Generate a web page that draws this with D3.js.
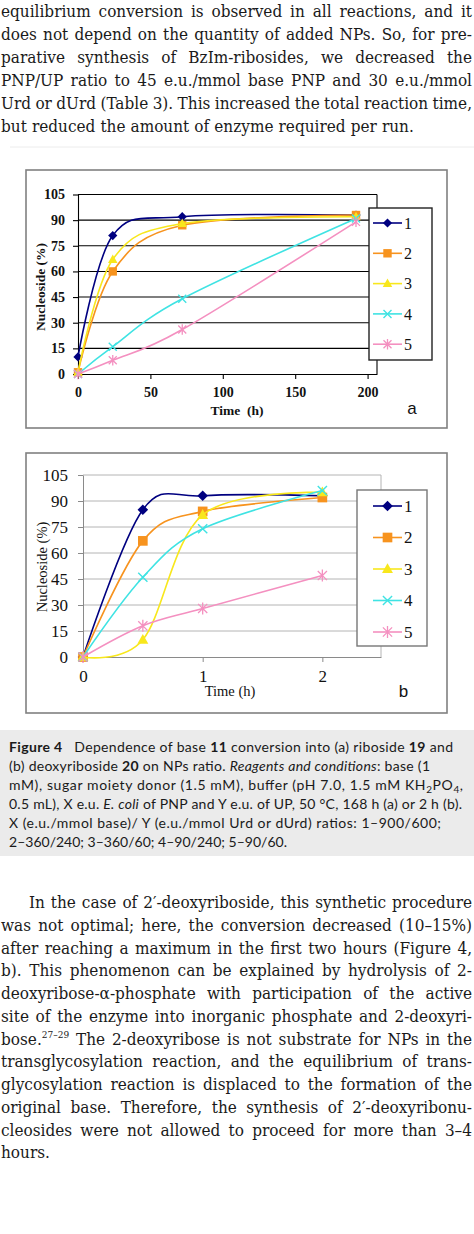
<!DOCTYPE html>
<html>
<head>
<meta charset="utf-8">
<script src="https://cdn.jsdelivr.net/npm/d3@7"></script>
<style>
  body { margin: 0; background: #fff; }
  svg { display: block; }
  text { white-space: pre; }
</style>
</head>
<body>
<div id="page"></div>
<script>
const W = 474, H = 1234;

// series data
const seriesNames = ['1', '2', '3', '4', '5'];
const seriesColors = ['#000080', '#F7931E', '#F8E71C', '#3FE3E3', '#F490C0'];
const timeA = [0, 24, 72, 192];
const valuesA = [
    [10, 81, 92, 93],
    [1, 60, 87, 93],
    [1, 67, 88, 92],
    [0, 16, 44, 91],
    [0, 8, 26, 89]
];
const timeB = [0, 0.5, 1, 2];
const valuesB = [
    [0, 85, 93, 93],
    [0, 67, 84, 92],
    [0, 10, 82, 95],
    [0, 46, 74, 96],
    [0, 18, 28, 47]
];
const yTicks = [0, 15, 30, 45, 60, 75, 90, 105];
const xTicksA = [0, 50, 100, 150, 200];
const xTicksB = [0, 1, 2];

// page text
const topLines = [
    'equilibrium conversion is observed in all reactions, and it',
    'does not depend on the quantity of added NPs. So, for pre-',
    'parative synthesis of BzIm-ribosides, we decreased the',
    'PNP/UP ratio to 45 e.u./mmol base PNP and 30 e.u./mmol',
    'Urd or dUrd (Table 3). This increased the total reaction time,',
    'but reduced the amount of enzyme required per run.'
];
const bottomLines = [
    'In the case of 2′-deoxyriboside, this synthetic procedure',
    'was not optimal; here, the conversion decreased (10–15%)',
    'after reaching a maximum in the first two hours (Figure 4,',
    'b). This phenomenon can be explained by hydrolysis of 2-',
    'deoxyribose-α-phosphate with participation of the active',
    'site of the enzyme into inorganic phosphate and 2-deoxyri-',
    'bose.^{27–29} The 2-deoxyribose is not substrate for NPs in the',
    'transglycosylation reaction, and the equilibrium of trans-',
    'glycosylation reaction is displaced to the formation of the',
    'original base. Therefore, the synthesis of 2′-deoxyribonu-',
    'cleosides were not allowed to proceed for more than 3–4',
    'hours.'
];
const captionLines = [
    [['Figure 4', 'b'], ['   Dependence of base '], ['11', 'b'], [' conversion into (a) riboside '], ['19', 'b'], [' and']],
    [['(b) deoxyriboside '], ['20', 'b'], [' on NPs ratio. '], ['Reagents and conditions', 'i'], [': base (1']],
    [['mM), sugar moiety donor (1.5 mM), buffer (pH 7.0, 1.5 mM KH'], ['2', 'sub'], ['PO'], ['4', 'sub'], [',']],
    [['0.5 mL), X e.u. '], ['E. coli', 'i'], [' of PNP and Y e.u. of UP, 50 °C, 168 h (a) or 2 h (b).']],
    [['X (e.u./mmol base)/ Y (e.u./mmol Urd or dUrd) ratios: 1–900/600;']],
    [['2–360/240; 3–360/60; 4–90/240; 5–90/60.']]
];
const captionRight = [453, 430, 463, 462, 441, 287];

const svg = d3.select('#page').append('svg')
    .attr('width', W)
    .attr('height', H);

// Body text, justified word by word
const bodyFont = "'DejaVu Serif Condensed', 'DejaVu Serif', serif";
const bodySize = 17;

function textLine(str, y, x0, x1, justify) {
    const words = str.split(' ');
    const nodes = words.map(w => {
        const t = svg.append('text')
            .attr('y', y)
            .attr('font-family', bodyFont)
            .attr('font-stretch', 'condensed')
            .attr('font-size', bodySize)
            .attr('fill', '#1a1a1a');
        const m = w.match(/^(.*)\^\{(.*)\}$/);
        if (m) {
            t.append('tspan').text(m[1]);
            t.append('tspan').attr('font-size', 10).attr('dy', -7).text(m[2]);
        } else {
            t.text(w);
        }
        return t;
    });
    const widths = nodes.map(n => n.node().getComputedTextLength());
    const gap = justify && words.length > 1
        ? (x1 - x0 - d3.sum(widths)) / (words.length - 1)
        : bodySize * 0.3;
    let x = x0;
    nodes.forEach((n, i) => {
        n.attr('x', x);
        x += widths[i] + gap;
    });
}

topLines.forEach((l, i) => textLine(l, 16.5 + i * 23.05, 1, 472, i < topLines.length - 1));
bottomLines.forEach((l, i) => textLine(l, 908 + i * 22.75, i === 0 ? 29 : 1, 472, i < bottomLines.length - 1));

// faint rule above the figure
svg.append('line')
    .attr('x1', 10).attr('x2', W)
    .attr('y1', 147).attr('y2', 147)
    .attr('stroke', '#ececec');

// Markers
function drawMarker(sel, i, s) {
    const c = seriesColors[i];
    if (i === 0) {
        const r = 4.6 * s;
        sel.append('path').attr('d', `M0,${-r}L${r},0L0,${r}L${-r},0Z`).attr('fill', c);
    } else if (i === 1) {
        const r = 4.2 * s;
        sel.append('rect').attr('x', -r).attr('y', -r).attr('width', 2 * r).attr('height', 2 * r).attr('fill', c);
    } else if (i === 2) {
        const r = 5 * s;
        sel.append('path').attr('d', `M0,${-r}L${r * 0.95},${r * 0.7}L${-r * 0.95},${r * 0.7}Z`).attr('fill', c);
    } else if (i === 3) {
        const r = 4 * s;
        sel.append('path').attr('d', `M${-r},${-r}L${r},${r}M${-r},${r}L${r},${-r}`)
            .attr('stroke', c).attr('stroke-width', 1.4).attr('fill', 'none');
    } else {
        const r = 4 * s;
        sel.append('path').attr('d', `M${-r},${-r}L${r},${r}M${-r},${r}L${r},${-r}M0,${-r * 1.3}L0,${r * 1.3}`)
            .attr('stroke', c).attr('stroke-width', 1.3).attr('fill', 'none');
    }
}

// Chart
function drawChart(o) {
    const g = svg.append('g');

    g.append('rect')
        .attr('x', o.box[0]).attr('y', o.box[1])
        .attr('width', o.box[2]).attr('height', o.box[3])
        .attr('fill', '#fff')
        .attr('stroke', '#808080')
        .attr('stroke-width', 1.6);

    const x = d3.scaleLinear().domain(o.xDomain).range([o.left, o.right]);
    const y = d3.scaleLinear().domain([0, 105]).range([o.bottom, o.top]);

    // gridlines + right border
    g.append('g').selectAll('line')
        .data(yTicks.slice(1))
        .join('line')
        .attr('x1', o.left).attr('x2', o.right)
        .attr('y1', d => y(d)).attr('y2', d => y(d))
        .attr('stroke', o.grid)
        .attr('stroke-width', o.gridWidth);
    g.append('line')
        .attr('x1', o.right).attr('x2', o.right)
        .attr('y1', o.top).attr('y2', o.bottom)
        .attr('stroke', o.grid)
        .attr('stroke-width', o.gridWidth);

    // Y Axis
    const yAx = g.append('g')
        .attr('transform', `translate(${o.left},0)`)
        .call(d3.axisLeft(y).tickValues(yTicks).tickSize(5).tickSizeOuter(0).tickPadding(o.yPad));
    // X Axis
    const xAx = g.append('g')
        .attr('transform', `translate(0,${o.bottom})`)
        .call(d3.axisBottom(x).tickValues(o.xTicks).tickFormat(d3.format('d')).tickSize(5).tickSizeOuter(0).tickPadding(8));

    [yAx, xAx].forEach(ax => {
        ax.attr('font-size', null);
        ax.select('.domain').attr('stroke', o.axis).attr('stroke-width', o.gridWidth);
        ax.selectAll('.tick line').attr('stroke', o.axis).attr('stroke-width', o.gridWidth);
        ax.selectAll('.tick text')
            .attr('fill', '#111')
            .attr('font-family', "'Liberation Serif', 'Times New Roman', serif")
            .style('font-size', o.tickSize + 'px')
            .attr('font-weight', o.weight);
    });

    // series lines
    const line = d3.line()
        .x(d => x(d[0]))
        .y(d => y(d[1]))
        .curve(d3.curveCatmullRom.alpha(0));

    o.values.forEach((vals, i) => {
        const pts = o.times.map((t, j) => [t, vals[j]]);
        g.append('path')
            .attr('d', line(pts))
            .attr('fill', 'none')
            .attr('stroke', seriesColors[i])
            .attr('stroke-width', 1.6);
        pts.forEach(p => {
            drawMarker(g.append('g').attr('transform', `translate(${x(p[0])},${y(p[1])})`), i, o.markerScale);
        });
    });

    // X Label
    g.append('text')
        .attr('x', o.xTitle[0]).attr('y', o.xTitle[1])
        .attr('text-anchor', 'middle')
        .attr('font-family', "'Liberation Serif', 'Times New Roman', serif")
        .attr('font-size', o.titleSize)
        .attr('font-weight', o.weight)
        .attr('fill', '#111')
        .text(o.xTitleText);

    // Y Label
    g.append('text')
        .attr('transform', `translate(${o.yTitle[0]},${o.yTitle[1]}) rotate(-90)`)
        .attr('text-anchor', 'middle')
        .attr('dy', '0.35em')
        .attr('font-family', "'Liberation Serif', 'Times New Roman', serif")
        .attr('font-size', o.titleSize)
        .attr('font-weight', o.weight)
        .attr('fill', '#111')
        .text('Nucleoside (%)');

    // panel letter
    g.append('text')
        .attr('x', o.letter[0]).attr('y', o.letter[1])
        .attr('text-anchor', 'middle')
        .attr('font-family', "'Liberation Sans', Arial, sans-serif")
        .attr('font-size', 17)
        .attr('fill', '#111')
        .text(o.letterText);

    // Legend
    const L = o.legend;
    const legend = g.append('g');
    legend.append('rect')
        .attr('x', L.x).attr('y', L.y)
        .attr('width', L.w).attr('height', L.h)
        .attr('fill', '#fff')
        .attr('stroke', L.stroke)
        .attr('stroke-width', 1.4);
    seriesNames.forEach((name, i) => {
        const ry = L.row0 + i * L.step;
        const row = legend.append('g').attr('transform', `translate(0,${ry})`);
        row.append('line')
            .attr('x1', 373).attr('x2', 402)
            .attr('stroke', seriesColors[i])
            .attr('stroke-width', 1.6);
        drawMarker(row.append('g').attr('transform', 'translate(387.5,0)'), i, o.markerScale);
        row.append('text')
            .attr('x', 404)
            .attr('y', 0)
            .attr('dy', '0.35em')
            .attr('font-family', "'Liberation Serif', 'Times New Roman', serif")
            .attr('font-size', L.fontSize)
            .attr('fill', '#111')
            .text(name);
    });
}

drawChart({
    box: [26, 170, 421, 258],
    left: 78, right: 377, top: 194.5, bottom: 374,
    xDomain: [0, 206.5], xTicks: xTicksA,
    times: timeA, values: valuesA,
    grid: '#000', axis: '#000', gridWidth: 1.1,
    tickSize: 14, titleSize: 13.5, weight: 'bold', yPad: 8,
    markerScale: 1,
    xTitle: [237, 415], xTitleText: 'Time  (h)',
    yTitle: [40, 287],
    letter: [412, 414], letterText: 'a',
    legend: { x: 369, y: 208, w: 63, h: 152, row0: 223, step: 30.3, stroke: '#222', fontSize: 16 }
});

drawChart({
    box: [26, 453, 421, 260],
    left: 83, right: 381, top: 475, bottom: 657,
    xDomain: [0, 2.49], xTicks: xTicksB,
    times: timeB, values: valuesB,
    grid: '#b4b4b4', axis: '#8a8a8a', gridWidth: 1,
    tickSize: 17, titleSize: 14.5, weight: 'normal', yPad: 10,
    markerScale: 1.15,
    xTitle: [230, 696], xTitleText: 'Time (h)',
    yTitle: [42, 567],
    letter: [403.5, 697], letterText: 'b',
    legend: { x: 357, y: 490, w: 70, h: 156, row0: 506, step: 31.5, stroke: '#777', fontSize: 17 }
});

// Caption
svg.append('rect')
    .attr('x', 0).attr('y', 730)
    .attr('width', W).attr('height', 126)
    .attr('fill', '#ebebeb');

captionLines.forEach((segs, i) => {
    const t = svg.append('text')
        .attr('x', 9)
        .attr('y', 752 + i * 19)
        .attr('font-family', "Lato, 'Open Sans', sans-serif")
        .attr('font-size', 14)
        .attr('fill', '#1a1a1a')
        .attr('textLength', captionRight[i] - 9)
        .attr('lengthAdjust', 'spacing');
    let shift = 0;
    segs.forEach(([str, st]) => {
        const ts = t.append('tspan').text(str);
        const want = st === 'sub' ? 3 : 0;
        if (want !== shift) {
            ts.attr('dy', want - shift);
            shift = want;
        }
        if (st === 'b') ts.attr('font-weight', 'bold');
        if (st === 'i') ts.attr('font-style', 'italic');
        if (st === 'sub') ts.attr('font-size', 10);
    });
});
</script>
</body>
</html>
